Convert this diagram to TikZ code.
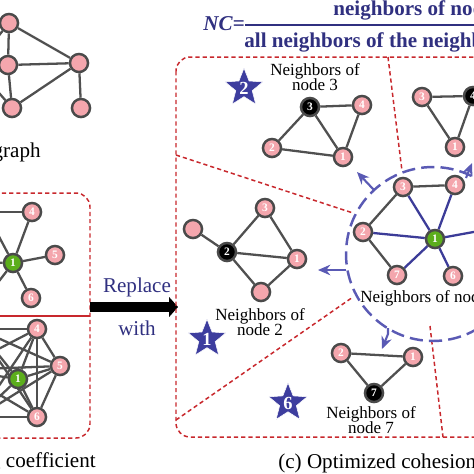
\documentclass[tikz,border=0pt]{standalone}
\usepackage{fontspec}
\setmainfont{Liberation Serif}
\usetikzlibrary{shapes.geometric,arrows.meta,backgrounds}
\definecolor{pinknode}{HTML}{F4A6AD}
\definecolor{rimgray}{HTML}{4A4A4A}
\definecolor{edgegray}{HTML}{505050}
\definecolor{edgeblue}{HTML}{3C3C98}
\definecolor{ringblue}{HTML}{5A5AB4}
\definecolor{cutred}{HTML}{C8282D}
\definecolor{inkblue}{HTML}{303080}
\definecolor{hubgreen}{HTML}{5CAE1C}
\definecolor{starblue}{HTML}{3D3D9E}
\tikzset{
	nd/.style={circle,draw=rimgray,line width=1.4pt,fill=pinknode,minimum size=10.3pt,inner sep=0pt,text=white,font=\fontsize{6.5}{6.5}\selectfont\bfseries},
	hub/.style={nd,fill=hubgreen},
	dark/.style={nd,fill=black},
	ed/.style={draw=edgegray,line width=1.3pt},
	bed/.style={draw=edgeblue,line width=1.3pt},
	part/.style={draw=cutred,line width=0.85pt,dash pattern=on 2.4pt off 1.7pt},
	badge/.style={star,star points=5,star point ratio=2.3,fill=starblue,draw=white,line width=0.3pt,minimum size=21pt,inner sep=0pt,text=white,font=\fontsize{10.5}{10.5}\selectfont\bfseries},
	lbl/.style={font=\fontsize{9.7}{9}\selectfont,align=center,inner sep=0pt},
	bigtext/.style={font=\fontsize{12}{12}\selectfont,inner sep=0pt},
	spread/.style={draw=ringblue,line width=1.2pt,-{Stealth[length=7pt,width=6pt]}}
}
\begin{document}
\begin{tikzpicture}[x=0.02cm,y=-0.02cm]
	\useasboundingbox (0,0) rectangle (474,474);
	\clip (0,0) rectangle (474,474);

	\node[nd] (a0) at (-25,65) {};
	\node[nd] (a1) at (9,23) {};
	\node[nd] (a2) at (8,65) {};
	\node[nd] (a3) at (12,108) {};
	\node[nd] (a4) at (79,63) {};
	\node[nd] (a5) at (81,108) {};
	\node[bigtext,anchor=base east] (capa) at (41,157) {(a) Original graph};

	\draw[part,rounded corners=8pt] (-60,193) rectangle (90,438);
	\draw[cutred,line width=0.6pt] (-60,316) -- (90,316);

	\node[hub] (b1) at (13,263) {1};
	\node[nd] (b2) at (-35,262) {};
	\node[nd] (b3) at (-14,212) {};
	\node[nd] (b4) at (32,212) {4};
	\node[nd] (b5) at (55,255) {5};
	\node[nd] (b6) at (31,298) {6};
	\node[nd] (b7) at (-14,298) {};

	\node[hub] (k1) at (18,379) {1};
	\node[nd] (k2) at (-42,370) {};
	\node[nd] (k3) at (-22,329) {};
	\node[nd] (k4) at (37,329) {4};
	\node[nd] (k5) at (60,366) {5};
	\node[nd] (k6) at (37,417) {6};
	\node[nd] (k7) at (-22,417) {};
	\node[bigtext,anchor=base east] (capb) at (96,467) {(b) Clustering coefficient};

	\coordinate (rl) at (90,307);
	\coordinate (rr) at (178,307);
	\draw[black,line width=5.5pt,-{Triangle[length=5pt,width=11pt]}] (rl) -- (rr);
	\node[bigtext,text=inkblue] (rep) at (137,287) {Replace};
	\node[bigtext,text=inkblue] (wth) at (137,328) {with};

	\node[font=\fontsize{12}{12}\selectfont\bfseries,text=inkblue,anchor=base west,inner sep=0pt] (nc) at (203,30) {\textit{NC}=};
	\draw[inkblue,line width=0.9pt] (245,25) -- (480,25);
	\node[font=\fontsize{12}{12}\selectfont\bfseries,text=inkblue,anchor=base west,inner sep=0pt] (num) at (333,15) {neighbors of node};
	\node[font=\fontsize{12}{12}\selectfont\bfseries,text=inkblue,anchor=base west,inner sep=0pt] (den) at (244,47) {all neighbors of the neighbors};

	\draw[part,rounded corners=8pt] (176,57) rectangle (620,437);
	\draw[part] (176,155) -- (353,213);
	\draw[part] (176,420) -- (353,297);
	\draw[part] (430,326) -- (443,437);
	\draw[part] (388,57) -- (402,171);

	\draw[ringblue,line width=1.4pt,dash pattern=on 7.5pt off 3.5pt] (433,254) circle [radius=1.74cm];

	\node[hub] (c1) at (435,239) {1};
	\node[nd] (c2) at (363,232) {2};
	\node[nd] (c3) at (403,187) {3};
	\node[nd] (c4) at (455,185) {4};
	\node[nd] (c5) at (490,229) {};
	\node[nd] (c6) at (453,276) {6};
	\node[nd] (c7) at (397,275) {7};
	\node[lbl,anchor=west] (capc1) at (360,298) {Neighbors of node 1};

	\node[dark] (m3) at (310,107) {3};
	\node[nd] (m2) at (272,148) {2};
	\node[nd] (m4) at (362,105) {4};
	\node[nd] (m1) at (343,157) {1};
	\node[lbl] (capc3) at (315,77) {Neighbors of\\node 3};
	\node[badge] (st2) at (244,88) {2};

	\node[nd] (r3) at (422,97) {3};
	\node[dark] (r4) at (473,96) {4};
	\node[nd] (r1) at (455,147) {1};

	\node[nd] (l0) at (193,229) {};
	\node[dark] (l2) at (227,252) {2};
	\node[nd] (l3) at (265,208) {3};
	\node[nd] (l1) at (297,259) {1};
	\node[nd] (l9) at (261,292) {};
	\node[lbl] (capc2) at (260,322) {Neighbors of\\node 2};
	\node[badge] (st1) at (207,339) {1};

	\node[badge] (st6) at (288,403) {6};

	\node[nd] (s2) at (341,353) {2};
	\node[nd] (s1) at (413,357) {1};
	\node[dark] (s7) at (374,393) {7};
	\node[lbl] (capc7) at (371,420) {Neighbors of\\node 7};

	\node[bigtext,anchor=base west] (capc) at (278,468) {(c) Optimized cohesion};

	\coordinate (g3a) at (374,190);
	\coordinate (g3b) at (357,172);
	\coordinate (g2a) at (346,270);
	\coordinate (g2b) at (318,270);
	\coordinate (g7a) at (388,328);
	\coordinate (g7b) at (388,334);
	\coordinate (g7c) at (382,349);
	\coordinate (g4a) at (466,178);
	\coordinate (g4b) at (472,163);
	\draw[spread] (g3a) -- (g3b);
	\draw[spread] (g2a) -- (g2b);
	\draw[spread] (g7a) -- (g7b) -- (g7c);
	\draw[spread] (g4a) -- (g4b);

	\begin{pgfonlayer}{background}
		\draw[ed] (a1) -- (a2) (a1) -- (a4) (a2) -- (a4) (a2) -- (a3) (a3) -- (a4) (a4) -- (a5) (a1) -- (a0) (a3) -- (a0);
		\foreach \t in {2,...,7} \draw[ed] (b1) -- (b\t);
		\draw[ed] (b3) -- (b4);
		\foreach \i [evaluate=\i as \s using int(\i+1)] in {1,...,6}
			\foreach \j in {\s,...,7} \draw[ed] (k\i) -- (k\j);
		\foreach \t in {2,...,7} \draw[bed] (c1) -- (c\t);
		\draw[ed] (c2) -- (c3) (c3) -- (c4) (c2) -- (c7);
		\draw[ed] (m3) -- (m2) (m3) -- (m4) (m3) -- (m1) (m2) -- (m1) (m4) -- (m1);
		\draw[ed] (r3) -- (r4) (r3) -- (r1) (r1) -- (r4);
		\draw[ed] (l0) -- (l2) (l2) -- (l3) (l2) -- (l1) (l2) -- (l9) (l3) -- (l1) (l9) -- (l1);
		\draw[ed] (s2) -- (s1) (s2) -- (s7) (s7) -- (s1);
	\end{pgfonlayer}

\end{tikzpicture}
\end{document}
